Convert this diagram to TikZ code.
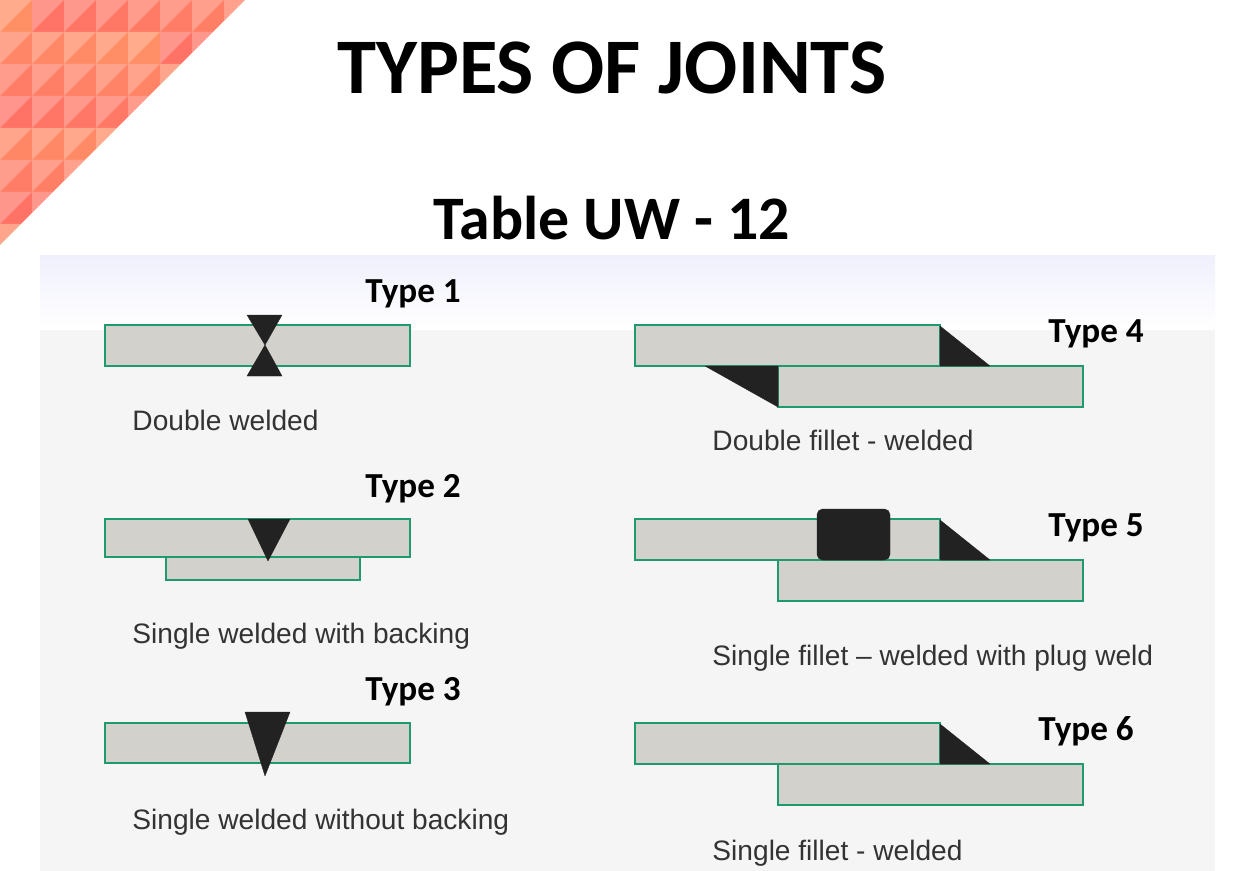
\documentclass[tikz,border=0pt]{standalone}
\usepackage{fontspec}
\setmainfont{Liberation Sans}
\newfontfamily\calib{Carlito}
\begin{document}
\begin{tikzpicture}[x=0.05cm,y=-0.05cm,
 plate/.style={fill=plategray,draw=edgegreen,line width=2.2pt},
 weld/.style={fill=weldblack,draw=weldblack,line width=0.5pt,line join=round},
 typ/.style={font=\calib\fontsize{50}{52}\selectfont\bfseries,anchor=base west},
 capt/.style={font=\fontsize{40}{44}\selectfont,anchor=base west,text=black!80}]
\definecolor{plategray}{HTML}{D3D1CC}
\definecolor{edgegreen}{HTML}{1F9A6E}
\definecolor{weldblack}{HTML}{222222}
\useasboundingbox (0,0) rectangle (1241,871);
\fill[white] (0,0) rectangle (1241,871);
% decorative mosaic
\begin{scope}
\clip (0,0) -- (245,0) -- (0,245) -- cycle;
\foreach \i in {0,...,7}{\foreach \j in {0,...,7}{
  \pgfmathsetmacro{\s}{mod(\i*37+\j*53,40)+45}
  \fill[red!\s!orange!60!white] (\i*32,\j*32) -- ++(32,0) -- ++(0,32) -- ++(-32,0) -- cycle;
  \fill[white,opacity=0.25] (\i*32,\j*32) -- ++(32,0) -- ++(-32,32) -- cycle;}}
\end{scope}
% panel
\shade[top color=black!12!blue!6,bottom color=white] (40,255) rectangle (1215,330);
\fill[white!96!black] (40,330) rectangle (1215,871);
\node[font=\calib\fontsize{112}{116}\selectfont\bfseries] (title) at (612,68) {TYPES OF JOINTS};
\node[font=\calib\fontsize{88}{92}\selectfont\bfseries] (table) at (612,218) {Table UW - 12};
% Type 1
\node[typ] (t1) at (363,302) {Type 1};
\draw[plate] (105,325) rectangle (410,366);
\fill[weld] (247,315) -- (282,315) -- (265,345) -- (282,376) -- (247,376) -- (265,345) -- cycle;
\node[capt] (c1) at (130,430) {Double welded};
% Type 2
\node[typ] (t2) at (363,497) {Type 2};
\draw[plate] (166,557) rectangle (360,580);
\draw[plate] (105,519) rectangle (410,557);
\fill[weld] (248,519) -- (290,519) -- (268,561) -- cycle;
\node[capt] (c2) at (130,643) {Single welded with backing};
% Type 3
\node[typ] (t3) at (363,700) {Type 3};
\draw[plate] (105,723) rectangle (410,763);
\fill[weld] (245,712) -- (290,712) -- (265,776) -- cycle;
\node[capt] (c3) at (130,829) {Single welded without backing};
% Type 4
\node[typ] (t4) at (1046,342) {Type 4};
\draw[plate] (635,325) rectangle (940,366);
\draw[plate] (778,366) rectangle (1083,407);
\fill[weld] (940,326) -- (940,366) -- (990,366) -- cycle;
\fill[weld] (705,366) -- (778,366) -- (778,407) -- cycle;
\node[capt] (c4) at (710,450) {Double fillet - welded};
% Type 5
\node[typ] (t5) at (1046,536) {Type 5};
\draw[plate] (635,519) rectangle (940,560);
\draw[plate] (778,560) rectangle (1083,601);
\fill[weld,rounded corners=8pt] (817,560) -- (817,509) -- (890,509) -- (890,560) -- cycle;
\fill[weld] (940,520) -- (940,560) -- (990,560) -- cycle;
\node[capt] (c5) at (710,665) {Single fillet -- welded with plug weld};
% Type 6
\node[typ] (t6) at (1036,740) {Type 6};
\draw[plate] (635,723) rectangle (940,764);
\draw[plate] (778,764) rectangle (1083,805);
\fill[weld] (940,724) -- (940,764) -- (990,764) -- cycle;
\node[capt] (c6) at (710,860) {Single fillet - welded};
\end{tikzpicture}
\end{document}
